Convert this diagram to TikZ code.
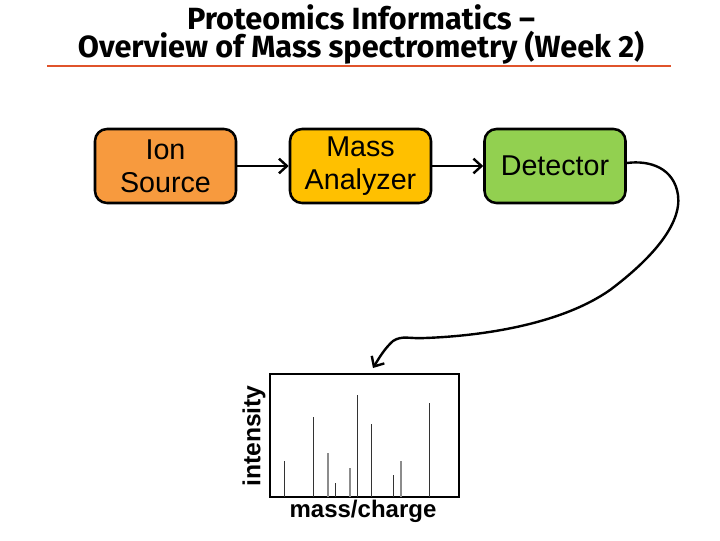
\documentclass[tikz,border=0pt]{standalone}
\usepackage{fontspec}
\setmainfont{Liberation Sans}
\newfontfamily\titlefont{Fira Sans}
\usetikzlibrary{arrows.meta}
\definecolor{ionc}{HTML}{F79A3E}
\definecolor{massc}{HTML}{FFC000}
\definecolor{detc}{HTML}{92D050}
\definecolor{rulec}{HTML}{E0532B}
\definecolor{peakg}{HTML}{8C8C8C}
\tikzset{
  stage/.style={draw=black, line width=1.9pt, rounded corners=9pt, minimum width=105.75pt, minimum height=55.5pt, align=center, font=\fontsize{21.5}{25}\selectfont, inner sep=0pt},
  flow/.style={line width=1.8pt, -{Straight Barb[length=6pt,width=11pt,line width=1.8pt]}},
  peak/.style={line width=0.9pt, black!80},
  gpeak/.style={line width=1.3pt, peakg},
  ttl/.style={font=\titlefont\bfseries\fontsize{23}{26}\selectfont}
}
\begin{document}
\begin{tikzpicture}[x=0.75pt,y=-0.75pt]
\useasboundingbox[fill=white] (0,0) rectangle (720,540);
% title
\node[ttl] (t1) at (361,17) {Proteomics Informatics \textendash};
\node[ttl] (t2) at (361,48) {Overview of Mass spectrometry (Week 2)};
\coordinate (r1) at (47,66);
\coordinate (r2) at (671,66);
\draw[rulec, line width=1.8pt] (r1) -- (r2);
% stages
\node[stage, fill=ionc] (ion) at (165.5,166) {Ion\\Source};
\node[stage, fill=massc] (mass) at (360.5,166) {Mass\\Analyzer};
\node[stage, fill=detc] (det) at (555,166) {Detector};
\draw[flow] (ion.east) -- (mass.west);
\draw[flow] (mass.east) -- (det.west);
% chart
\node[draw=black, line width=1.2pt, minimum width=141.75pt, minimum height=92.25pt, inner sep=0pt] (chart) at (364.5,435.5) {};
\coordinate (tip) at (373,368);
\draw[line width=1.8pt, -{Straight Barb[length=6pt,width=11pt,line width=1.8pt]}]
  (det.east) ++(0,-3) .. controls (650,160) and (674,168) .. (678,195)
  .. controls (682,225) and (650,260) .. (610,290)
  .. controls (560,325) and (480,336) .. (425,338)
  .. controls (410,339) and (402,335) .. (393,341)
  .. controls (385,348) and (379,358) .. (tip);
% peaks
\foreach \x/\y in {284.3/460.7, 313.3/417.3, 335.3/482.7, 357.7/395, 371.7/424.3, 393.3/475, 429.3/402.7}
  \draw[peak] (\x,497) -- (\x,\y);
\foreach \x/\y in {327.7/453.3, 350/467.7, 400.7/460.7}
  \draw[gpeak] (\x,497) -- (\x,\y);
\node[font=\bfseries\fontsize{18.5}{20}\selectfont, rotate=90] (ylab) at (254,436) {intensity};
\node[font=\bfseries\fontsize{18}{20}\selectfont] (xlab) at (363,511) {mass/charge};
\end{tikzpicture}
\end{document}
